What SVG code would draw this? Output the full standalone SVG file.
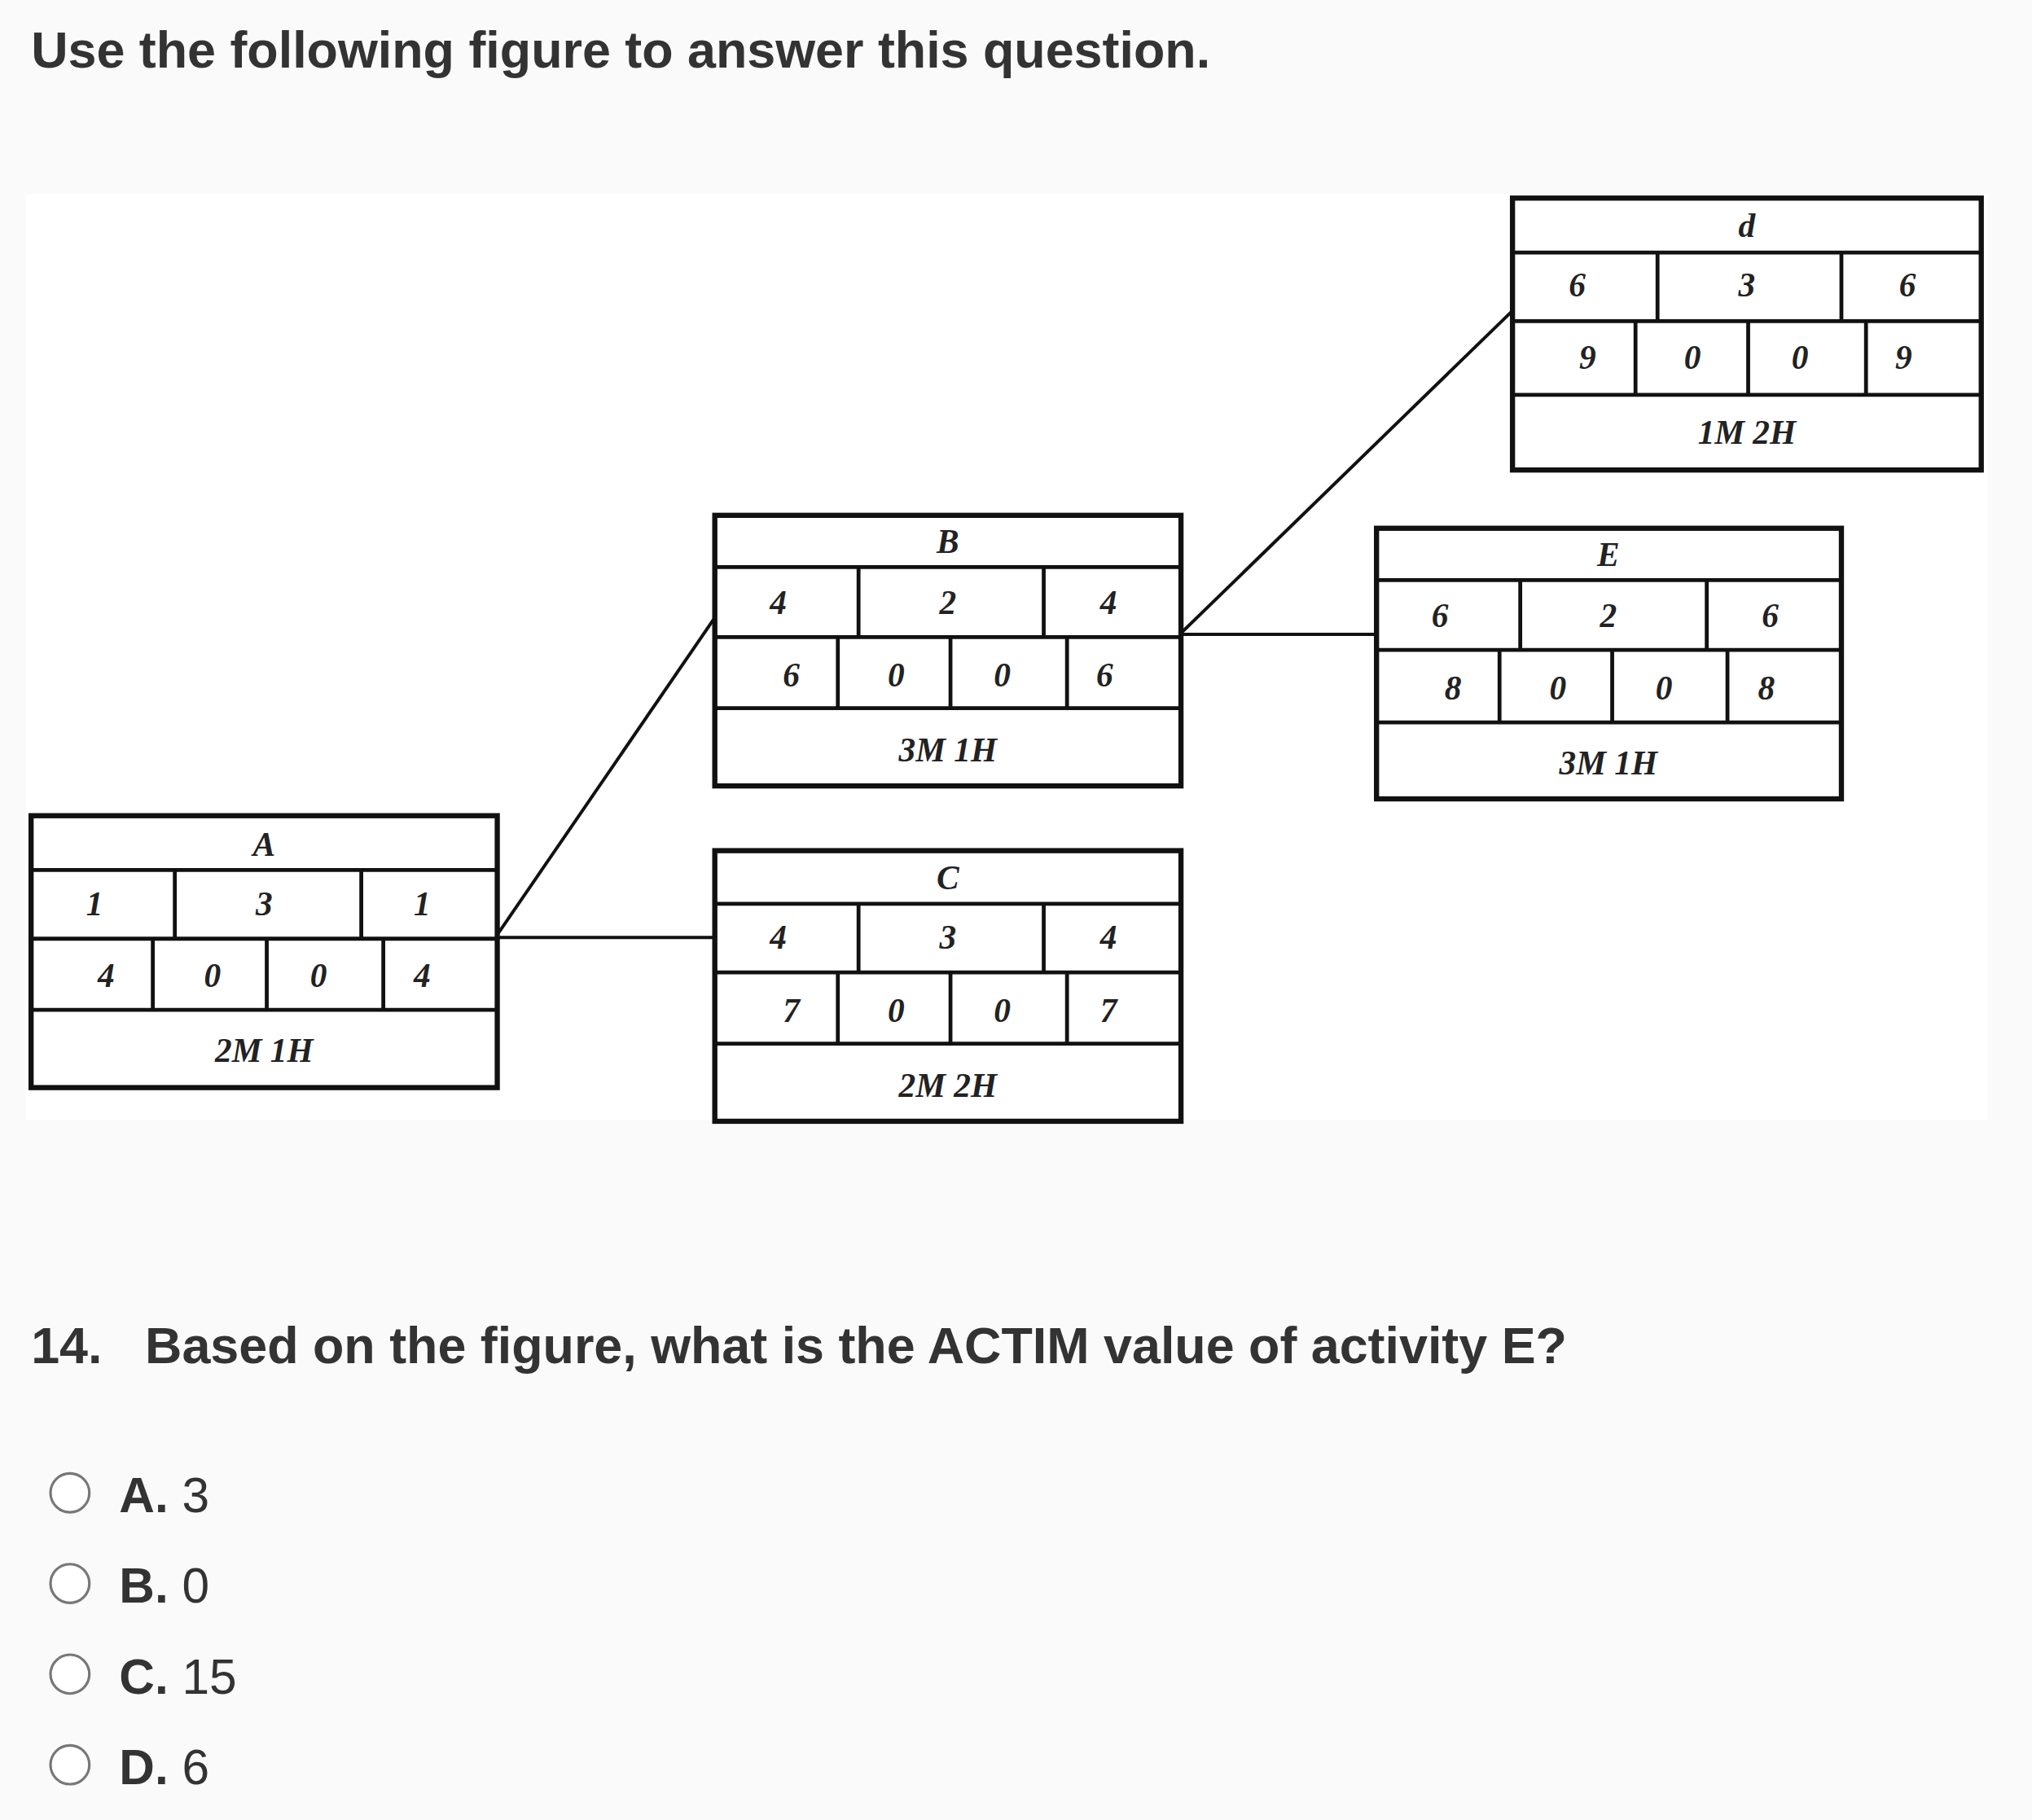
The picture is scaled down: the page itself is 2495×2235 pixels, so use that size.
<svg xmlns="http://www.w3.org/2000/svg" width="2495" height="2235" viewBox="0 0 2495 2235">
<style>
.b{fill:none;stroke:#111;stroke-width:3}
.o{fill:#fff;stroke:#111;stroke-width:4}
.l{stroke:#111;stroke-width:2.5;fill:none}
.t{font-family:"Liberation Serif",serif;font-weight:bold;font-style:italic;font-size:26px;fill:#222;text-anchor:middle}
.h{font-family:"Liberation Sans",Arial,sans-serif;font-weight:bold;fill:#333}
.n{font-family:"Liberation Sans",Arial,sans-serif;fill:#333;font-size:38px}
</style>
<rect width="2495" height="2235" fill="#fafafa"/>
<g transform="scale(1.59)">
<rect x="20" y="150" width="1515" height="715" fill="#fff"/>
<text class="h" x="24" y="52" font-size="39.5">Use the following figure to answer this question.</text>
<g id="connectors">
<line class="l" x1="384" y1="722" x2="552" y2="477"/>
<line class="l" x1="384" y1="724" x2="552" y2="724"/>
<line class="l" x1="912" y1="489" x2="1168" y2="240"/>
<line class="l" x1="912" y1="490" x2="1063" y2="490"/>
</g>
<g id="nodeA">
<rect class="o" x="24" y="630" width="360" height="210"/>
<path class="b" d="M24 672H384M24 725H384M24 780H384M135 672V725M279 672V725M118 725V780M206 725V780M296 725V780"/>
<text class="t" x="204" y="661">A</text>
<text class="t" x="73" y="707">1</text><text class="t" x="204" y="707">3</text><text class="t" x="326" y="707">1</text>
<text class="t" x="82" y="762">4</text><text class="t" x="164" y="762">0</text><text class="t" x="246" y="762">0</text><text class="t" x="326" y="762">4</text>
<text class="t" x="204" y="820">2M 1H</text>
</g>
<g id="nodeB">
<rect class="o" x="552" y="398" width="360" height="209"/>
<path class="b" d="M552 438H912M552 492H912M552 547H912M663 438V492M806 438V492M647 492V547M734 492V547M824 492V547"/>
<text class="t" x="732" y="427">B</text>
<text class="t" x="601" y="474">4</text><text class="t" x="732" y="474">2</text><text class="t" x="856" y="474">4</text>
<text class="t" x="611" y="530">6</text><text class="t" x="692" y="530">0</text><text class="t" x="774" y="530">0</text><text class="t" x="853" y="530">6</text>
<text class="t" x="732" y="588">3M 1H</text>
</g>
<g id="nodeC">
<rect class="o" x="552" y="657" width="360" height="209"/>
<path class="b" d="M552 698H912M552 751H912M552 806H912M663 698V751M806 698V751M647 751V806M734 751V806M824 751V806"/>
<text class="t" x="732" y="687">C</text>
<text class="t" x="601" y="733">4</text><text class="t" x="732" y="733">3</text><text class="t" x="856" y="733">4</text>
<text class="t" x="611" y="789">7</text><text class="t" x="692" y="789">0</text><text class="t" x="774" y="789">0</text><text class="t" x="856" y="789">7</text>
<text class="t" x="732" y="847">2M 2H</text>
</g>
<g id="nodeD">
<rect class="o" x="1168" y="153" width="362" height="210"/>
<path class="b" d="M1168 195H1530M1168 248H1530M1168 305H1530M1280 195V248M1422 195V248M1263 248V305M1350 248V305M1441 248V305"/>
<text class="t" x="1349" y="183">d</text>
<text class="t" x="1218" y="229">6</text><text class="t" x="1349" y="229">3</text><text class="t" x="1473" y="229">6</text>
<text class="t" x="1226" y="285">9</text><text class="t" x="1307" y="285">0</text><text class="t" x="1390" y="285">0</text><text class="t" x="1470" y="285">9</text>
<text class="t" x="1349" y="343">1M 2H</text>
</g>
<g id="nodeE">
<rect class="o" x="1063" y="408" width="359" height="209"/>
<path class="b" d="M1063 448H1422M1063 502H1422M1063 558H1422M1174 448V502M1318 448V502M1158 502V558M1245 502V558M1334 502V558"/>
<text class="t" x="1242" y="437">E</text>
<text class="t" x="1112" y="484">6</text><text class="t" x="1242" y="484">2</text><text class="t" x="1367" y="484">6</text>
<text class="t" x="1122" y="540">8</text><text class="t" x="1203" y="540">0</text><text class="t" x="1285" y="540">0</text><text class="t" x="1364" y="540">8</text>
<text class="t" x="1242" y="598">3M 1H</text>
</g>
<text class="h" x="24" y="1053" font-size="39.5">14.<tspan x="112">Based on the figure, what is the ACTIM value of activity E?</tspan></text>
<g fill="#fff" stroke="#777" stroke-width="2">
<circle cx="54" cy="1153" r="15"/><circle cx="54" cy="1223" r="15"/><circle cx="54" cy="1293" r="15"/><circle cx="54" cy="1363" r="15"/>
</g>
<text class="n" x="92" y="1168"><tspan font-weight="bold">A.</tspan> 3</text>
<text class="n" x="92" y="1238"><tspan font-weight="bold">B.</tspan> 0</text>
<text class="n" x="92" y="1308"><tspan font-weight="bold">C.</tspan> 15</text>
<text class="n" x="92" y="1378"><tspan font-weight="bold">D.</tspan> 6</text>
</g>
</svg>
